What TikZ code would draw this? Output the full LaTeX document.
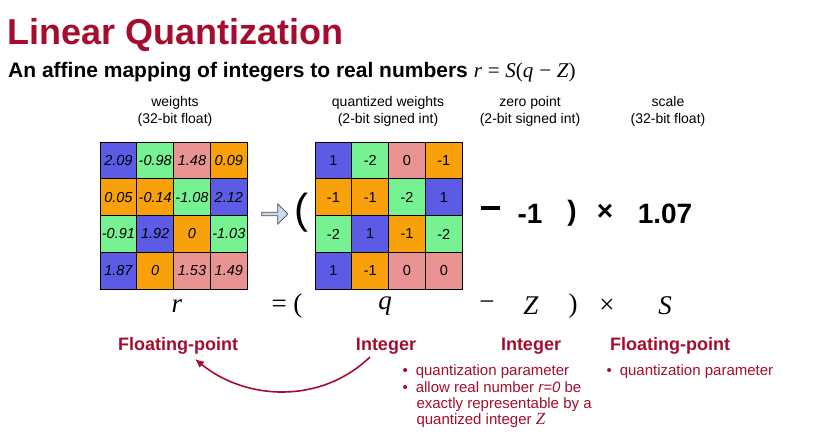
\documentclass[tikz,border=0pt]{standalone}
\usepackage{fontspec}
\setmainfont{Liberation Sans}
\newfontfamily\serifm{Liberation Serif}
\usetikzlibrary{shapes.arrows,arrows.meta}
\definecolor{cb}{HTML}{5B5BE6}
\definecolor{cg}{HTML}{77F293}
\definecolor{cp}{HTML}{E99393}
\definecolor{co}{HTML}{F9A10B}
\definecolor{crim}{HTML}{A50D2F}
\definecolor{ab}{HTML}{C9D9F2}
\tikzset{
 cell/.style={draw=black,line width=0.8pt,minimum width=36.8pt,minimum height=36.8pt,inner sep=0,font=\fontsize{14.5}{14.5}\selectfont},
 hdr/.style={align=center,font=\fontsize{14}{17}\selectfont},
 op/.style={font=\bfseries\fontsize{28}{28}\selectfont},
 eq/.style={font=\serifm\fontsize{27}{27}\selectfont},
 lab/.style={text=crim,font=\bfseries\fontsize{18}{20}\selectfont},
 bul/.style={text=crim,align=left,anchor=north west,font=\fontsize{15}{16}\selectfont},
}
\begin{document}
\begin{tikzpicture}[x=1pt,y=-1pt]
\useasboundingbox (0,0) rectangle (830,435);
\node[anchor=base west,text=crim,font=\bfseries\fontsize{36}{36}\selectfont,inner sep=0] (title) at (7,45) {Linear Quantization};
\node[anchor=base west,font=\bfseries\fontsize{21}{21}\selectfont,inner sep=0] (sub) at (8,78) {An affine mapping of integers to real numbers {\serifm\mdseries\itshape r} {\serifm\mdseries=} {\serifm\mdseries\itshape S}{\serifm\mdseries(}{\serifm\mdseries\itshape q} {\serifm\mdseries−} {\serifm\mdseries\itshape Z}{\serifm\mdseries)}};
\node[hdr] (h1) at (175,111) {weights\\(32-bit float)};
\node[hdr] (h2) at (388,111) {quantized weights\\(2-bit signed int)};
\node[hdr] (h3) at (530,111) {zero point\\(2-bit signed int)};
\node[hdr] (h4) at (668,111) {scale\\(32-bit float)};
% left matrix
\foreach \row [count=\i from 0] in {{cb/2.09,cg/-0.98,cp/1.48,co/0.09},{co/0.05,co/-0.14,cg/-1.08,cb/2.12},{cg/-0.91,cb/1.92,co/0,cg/-1.03},{cb/1.87,co/0,cp/1.53,cp/1.49}}{
 \foreach \c/\v [count=\j from 0] in \row {
  \node[cell,fill=\c,font=\itshape\fontsize{14.5}{14.5}\selectfont] (w\i\j) at (118.4+36.8*\j,160.4+36.8*\i) {\v};
 }}
\foreach \row [count=\i from 0] in {{cb/1,cg/-2,cp/0,co/-1},{co/-1,co/-1,cg/-2,cb/1},{cg/-2,cb/1,co/-1,cg/-2},{cb/1,co/-1,cp/0,cp/0}}{
 \foreach \c/\v [count=\j from 0] in \row {
  \node[cell,fill=\c] (q\i\j) at (333.4+36.8*\j,160.4+36.8*\i) {\v};
 }}
\node[single arrow,draw=black!70,fill=ab,minimum height=26pt,minimum width=20pt,single arrow head extend=2pt,inner sep=0,line width=0.8pt] (arr) at (274,214) {};
\node[font=\fontsize{42}{42}\selectfont] (lp) at (301,213) {(};
\node[op] (m1) at (490,212) {\rule[8pt]{19pt}{3.2pt}};
\node[op] (zv) at (530,214) {-1};
\node[op] (rp) at (572,213) {)};
\node[op] (tm) at (605,212) {×};
\node[op] (sv) at (665,214) {1.07};
% equation row
\node[eq,font=\serifm\itshape\fontsize{27}{27}\selectfont] (er) at (177,306) {r};
\node[eq] (eeq) at (287,306) {= (};
\node[eq,font=\serifm\itshape\fontsize{27}{27}\selectfont] (eq) at (385,306) {q};
\node[eq] (emin) at (487,306) {−};
\node[eq,font=\serifm\itshape\fontsize{27}{27}\selectfont] (ez) at (531,306) {Z};
\node[eq] (erp) at (573,306) {)};
\node[eq] (etm) at (607,306) {×};
\node[eq,font=\serifm\itshape\fontsize{27}{27}\selectfont] (es) at (665,306) {S};
% labels
\node[lab] (l1) at (178,346) {Floating-point};
\node[lab] (l2) at (386,346) {Integer};
\node[lab] (l3) at (531,346) {Integer};
\node[lab] (l4) at (670,346) {Floating-point};
\node[bul] (b1) at (399,361) {•\hspace{8pt}quantization parameter\\[1pt] •\hspace{8pt}allow real number \textit{r=0} be\\ \hspace{14pt}exactly representable by a\\ \hspace{14pt}quantized integer {\serifm\itshape\fontsize{17}{16}\selectfont Z}};
\node[bul] (b2) at (603,361) {•\hspace{8pt}quantization parameter};
\coordinate (cs) at (370,357);
\coordinate (ce) at (195,359);
\draw[crim,line width=1.6pt,-{Latex[length=9pt,width=8pt]}] (cs) .. controls (320,405) and (245,400) .. (ce);
\end{tikzpicture}
\end{document}
